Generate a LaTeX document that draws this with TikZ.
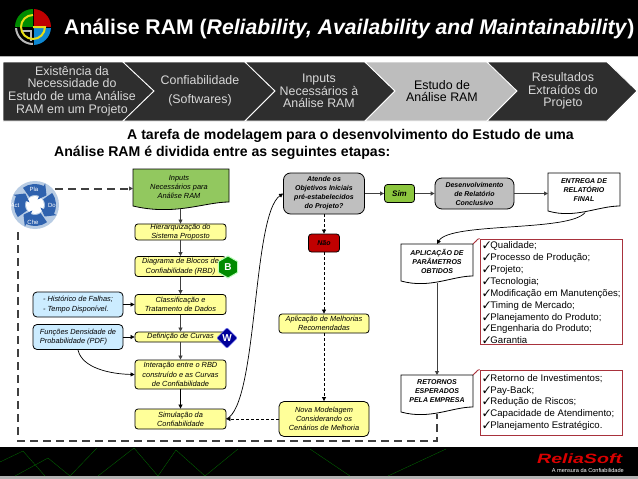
\documentclass[tikz,border=0pt]{standalone}
\usepackage{fontspec}
\setmainfont{Liberation Sans}
\usepackage{pifont}
\usetikzlibrary{arrows.meta,shapes.geometric}
\definecolor{chevdark}{HTML}{2E2E2E}
\definecolor{chevgray}{HTML}{BDBDBD}
\definecolor{boxyellow}{HTML}{FFFF99}
\definecolor{boxblue}{HTML}{CCECFF}
\definecolor{boxgreen}{HTML}{92C85F}
\definecolor{boxgray}{HTML}{BFBFBF}
\definecolor{boxred}{HTML}{C00000}
\definecolor{simgreen}{HTML}{8CC63F}
\definecolor{listred}{HTML}{A8323C}
\definecolor{linegray}{HTML}{404040}
\definecolor{cycblue}{HTML}{2F62AE}
\definecolor{cycpale}{HTML}{B8CCE4}
\tikzset{
  >={Triangle[length=4pt,width=4pt]},
  flow/.style={draw=black,line width=0.8pt,rounded corners=3pt,inner sep=0pt,font=\itshape\fontsize{7.4}{9.2}\selectfont,align=center},
  yel/.style={flow,fill=boxyellow,minimum width=91pt},
  blu/.style={flow,fill=boxblue,minimum width=90pt,minimum height=25pt,rounded corners=4pt},
  gry/.style={flow,fill=boxgray,rounded corners=7pt,font=\bfseries\itshape\fontsize{7}{9}\selectfont},
  doc/.style={inner sep=0pt,font=\bfseries\itshape\fontsize{7}{9}\selectfont,align=center},
  docshape/.style={draw=black,line width=0.8pt,fill=white},
  chev/.style={draw=white,line width=0.8pt,fill=chevdark},
  chevtxt/.style={text=white!85!black,font=\fontsize{12.4}{12.7}\selectfont,align=center,inner sep=0pt},
  conn/.style={draw=linegray,line width=1pt,->},
  thin conn/.style={draw=black,line width=0.7pt,->},
  dash conn/.style={draw=black,line width=0.7pt,dash pattern=on 3pt off 2pt,->},
  big dash/.style={draw=linegray,line width=2pt,dash pattern=on 8pt off 5pt},
  lst/.style={draw=listred,line width=0.9pt,fill=white,inner sep=0pt},
  lsttxt/.style={anchor=north west,inner sep=0pt,align=left,font=\fontsize{9.6}{11.9}\selectfont},
  intro/.style={anchor=west,inner sep=0pt,font=\bfseries\fontsize{14.1}{16}\selectfont},
  cyctxt/.style={text=white,inner sep=0pt,font=\fontsize{6}{6}\selectfont},
  net/.style={draw=green!45!black,line width=0.3pt}
}
\newcommand{\ck}{\ding{51}}
\begin{document}
\begin{tikzpicture}[x=1pt,y=-1pt]
\useasboundingbox (0,0) rectangle (638,479);
\fill[white] (0,0) rectangle (638,479);

% header
\fill[black] (0,0) rectangle (638,56);
\fill[gray!60] (0,56) rectangle (638,57);
\node[anchor=west,text=white,inner sep=0pt,font=\bfseries\fontsize{21.2}{24}\selectfont] (title) at (64,29)
  {Análise RAM (\textit{Reliability, Availability and Maintainability})};

% logo (y axis points down, so angles run clockwise)
\fill[green!55!black] (33,27) -- (15,27) arc (180:270:18) -- cycle;
\fill[red!75!black] (33,27) -- (33,9) arc (-90:0:18) -- cycle;
\fill[cyan!70!blue] (33,27) -- (51,27) arc (0:90:18) -- cycle;
\draw[gray!55,line width=2pt] (33,44) arc (90:180:17);
\draw[gray!55,line width=1.5pt] (21,31) -- (31,31) -- (31,41);
\draw[black,line width=1pt] (15,27) -- (51,27) (33,9) -- (33,45);
\draw[yellow!90!black,line width=2pt] (33,15) arc (-90:-360:12) -- (33,27);

% process band
\draw[chev] (3,62) -- (123,62) -- (154,91) -- (123,121) -- (3,121) -- cycle;
\draw[chev] (123,62) -- (245,62) -- (275,91) -- (245,121) -- (123,121) -- (154,91) -- cycle;
\draw[chev] (245,62) -- (365,62) -- (395,91) -- (365,121) -- (245,121) -- (275,91) -- cycle;
\draw[chev,fill=chevgray] (365,62) -- (487,62) -- (517,91) -- (487,121) -- (365,121) -- (395,91) -- cycle;
\draw[chev] (487,62) -- (607,62) -- (637,91) -- (607,121) -- (487,121) -- (517,91) -- cycle;
\node[chevtxt] (c1) at (72,91) {Existência da\\Necessidade do\\Estudo de uma Análise\\RAM em um Projeto};
\node[chevtxt,font=\fontsize{12.4}{19}\selectfont] (c2) at (200,91) {Confiabilidade\\(Softwares)};
\node[chevtxt] (c3) at (319,91) {Inputs\\Necessários à\\Análise RAM};
\node[chevtxt,text=black] (c4) at (442,91) {Estudo de\\Análise RAM};
\node[chevtxt] (c5) at (563,91) {Resultados\\Extraídos do\\Projeto};

% intro text
\node[intro] (t1) at (127,136) {A tarefa de modelagem para o desenvolvimento do Estudo de uma};
\node[intro] (t2) at (54,153) {Análise RAM é dividida entre as seguintes etapas:};

% cycle icon
\begin{scope}[shift={(35,205)}]
  \fill[cycpale] (0,0) circle (24);
  \fill[white] (0,0) circle (9);
  \foreach \a in {-125,-35,55,145}
    \fill[cycblue] (\a:10) arc (\a:\a+60:10) -- (\a+60:6) -- (\a+85:15) -- (\a+60:24) -- (\a+60:21)
      arc (\a+60:\a:21) -- cycle;
\end{scope}
\node[cyctxt] (pl) at (34,189) {Pla};
\node[cyctxt] (dw) at (52,205) {Do};
\node[cyctxt] (ch) at (33,222) {Che};
\node[cyctxt] (ac) at (15,205) {Act};
\coordinate (cycr) at (55,188.5);
\coordinate (cycb) at (18,232);
\coordinate (bl) at (18,441);
\coordinate (br) at (437,441);

% left column
\draw[docshape,fill=boxgreen] (133,169) -- (229,169) -- (229,202) .. controls (205,202) and (175,216) .. (133,206) -- cycle;
\node[doc,font=\itshape\fontsize{7.4}{9.4}\selectfont] (inp) at (179,187) {Inputs\\Necessários para\\Análise RAM};
\coordinate (inpl) at (133,188.5);
\coordinate (inpb) at (180.5,209);
\node[yel,minimum height=16pt] (hier) at (180.5,232) {Hierarquização do\\Sistema Proposto};
\node[yel,minimum height=20pt] (diag) at (180.5,266.5) {Diagrama de Blocos de\\Confiabilidade (RBD)};
\node[yel,minimum height=20pt] (clas) at (180.5,304.5) {Classificação e\\Tratamento de Dados};
\node[yel,minimum height=10pt] (curv) at (180.5,337) {Definição de Curvas};
\node[yel,minimum height=29pt] (inte) at (180.5,374.5) {Interação entre o RBD\\construído e as Curvas\\de Confiabilidade};
\node[yel,minimum height=20pt] (simu) at (180.5,419) {Simulação da\\Confiabilidade};
\node[blu,align=left] (hist) at (78,304.5) {- Histórico de Falhas;\\- Tempo Disponível.};
\node[blu,align=left] (func) at (78,337) {Funções Densidade de\\Probabilidade (PDF)};

% software badges
\node[regular polygon,regular polygon sides=6,shape border rotate=30,fill=green!55!black,draw=green!25!white,line width=1pt,minimum size=22pt,inner sep=0pt,text=white,font=\bfseries\fontsize{10}{10}\selectfont] (bdg) at (228,267) {B};
\node[diamond,fill=blue!60!black,draw=blue!50!white,rounded corners=1pt,minimum size=21pt,inner sep=0pt,text=white,font=\bfseries\fontsize{10}{10}\selectfont] (wbl) at (227,338) {W};

% middle column
\node[gry,minimum width=81pt,minimum height=41pt] (aten) at (324,193.5) {Atende os\\Objetivos Iniciais\\pré-estabelecidos\\do Projeto?};
\node[flow,fill=simgreen,minimum width=30pt,minimum height=18pt,font=\bfseries\itshape\fontsize{8}{8}\selectfont] (sim) at (399.5,193.5) {Sim};
\node[gry,minimum width=79pt,minimum height=31pt] (dese) at (474.5,193.5) {Desenvolvimento\\de Relatório\\Conclusivo};
\node[flow,fill=boxred,minimum width=31pt,minimum height=18pt,font=\bfseries\itshape\fontsize{7}{7}\selectfont] (nao) at (324,243) {Não};
\node[yel,minimum width=90pt,minimum height=19pt] (mel) at (324,323.5) {Aplicação de Melhorias\\Recomendadas};
\node[yel,minimum width=90pt,minimum height=35pt,rounded corners=5pt] (nova) at (324,419) {Nova Modelagem\\Considerando os\\Cenários de Melhoria};

% documents on the right
\draw[docshape] (548,173) -- (620,173) -- (620,206) .. controls (598,206) and (575,219) .. (548,211) -- cycle;
\node[doc] (entr) at (584,190) {ENTREGA DE\\RELATÓRIO\\FINAL};
\coordinate (entl) at (548,193.5);
\coordinate (entb) at (585,212.5);
\draw[docshape] (401,244) -- (473,244) -- (473,276) .. controls (452,276) and (430,289) .. (401,281) -- cycle;
\node[doc] (apli) at (437,261) {APLICAÇÃO DE\\PARÂMETROS\\OBTIDOS};
\coordinate (aplt) at (437,244);
\coordinate (aplb) at (437,283);
\coordinate (aplc) at (473,244);
\draw[docshape] (401,375) -- (473,375) -- (473,407) .. controls (452,407) and (430,420) .. (401,412) -- cycle;
\node[doc] (reto) at (437,391) {RETORNOS\\ESPERADOS\\PELA EMPRESA};
\coordinate (rett) at (437,375);
\coordinate (retb) at (437,414);
\coordinate (retc) at (473,375);

% lists
\node[lst,minimum width=142.5pt,minimum height=105.5pt] (box1) at (551.25,291.75) {};
\node[lst,minimum width=142.5pt,minimum height=65pt] (box2) at (551.25,402.5) {};
\draw[listred,line width=0.9pt] (aplc) .. controls (476,243) and (476,239) .. (box1.north west);
\draw[listred,line width=0.9pt] (retc) .. controls (476,374) and (476,370) .. (box2.north west);
\node[lsttxt] (l1) at (483,241.5) {\ck Qualidade;\\\ck Processo de Produção;\\\ck Projeto;\\\ck Tecnologia;\\\ck Modificação em Manutenções;\\\ck Timing de Mercado;\\\ck Planejamento do Produto;\\\ck Engenharia do Produto;\\\ck Garantia};
\node[lsttxt] (l2) at (483,374) {\ck Retorno de Investimentos;\\\ck Pay-Back;\\\ck Redução de Riscos;\\\ck Capacidade de Atendimento;\\\ck Planejamento Estratégico.};

% connectors
\draw[big dash,->] (cycr) -- (inpl);
\draw[big dash] (cycb) -- (bl) -- (br) -- (retb);
\draw[thin conn,draw=linegray] (inpb) -- (hier);
\draw[thin conn,draw=linegray] (hier) -- (diag);
\draw[thin conn,draw=linegray] (diag) -- (clas);
\draw[thin conn,draw=linegray] (clas) -- (curv);
\draw[thin conn,draw=linegray] (curv) -- (inte);
\draw[thin conn] (inte) -- (simu);
\draw[thin conn] (hist) -- (clas);
\draw[thin conn] (func) -- (curv);
\draw[thin conn] (func.south) .. controls (82,368) and (110,374) .. (inte.west);
\draw[thin conn] (simu.east) .. controls (258,405) and (252,215) .. (aten.west);
\draw[dash conn] (nova) -- (simu);
\draw[conn] (aten) -- (sim);
\draw[conn] (sim) -- (dese);
\draw[conn] (dese) -- (entl);
\draw[dash conn] (aten) -- (nao);
\draw[dash conn] (nao) -- (mel);
\draw[dash conn] (mel) -- (nova);
\draw[thin conn] (entb) .. controls (570,232) and (450,222) .. (aplt);
\draw[conn] (aplb) -- (rett);

% footer
\fill[black] (0,447) rectangle (638,476);
\fill[gray!60] (0,476) rectangle (638,479);
\draw[net] (0,462) -- (23,451) -- (45,476);
\draw[net] (15,476) -- (48,458) -- (70,476);
\draw[net] (70,476) -- (97,448);
\draw[net] (98,476) -- (134,448) -- (158,476) -- (176,450) -- (205,476) -- (238,449);
\draw[net] (310,449) -- (350,476);
\draw[net] (388,476) -- (446,449);
\node[anchor=west,inner sep=0pt,text=red!85!black,font=\bfseries\itshape\fontsize{13.5}{14}\selectfont] (rs) at (537,458.5) {\scalebox{1.45}[1]{ReliaSoft}};
\node[anchor=east,inner sep=0pt,text=white,font=\fontsize{5.6}{6}\selectfont] (rs2) at (624,470) {A mensura da Confiabilidade};
\end{tikzpicture}
\end{document}
